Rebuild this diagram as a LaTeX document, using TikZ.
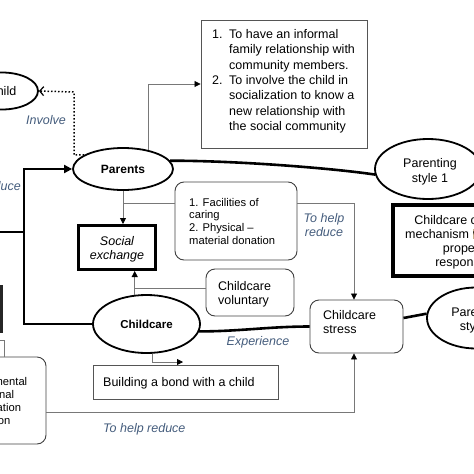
\documentclass[tikz,border=0pt]{standalone}
\usepackage{fontspec}
\setmainfont{Liberation Sans}
\usetikzlibrary{shapes.geometric,arrows.meta,calc}
\definecolor{lblue}{RGB}{68,92,124}
\definecolor{cgray}{RGB}{120,120,120}
\definecolor{bgray}{RGB}{85,85,85}
\definecolor{tanhl}{RGB}{200,175,135}
\newcommand{\fsA}{\fontsize{12.5}{15.3}\selectfont}
\newcommand{\fsB}{\fontsize{11.2}{12.8}\selectfont}
\newcommand{\fsC}{\fontsize{12.5}{14}\selectfont}
\newcommand{\fsD}{\fontsize{11.2}{13}\selectfont}
\begin{document}
\begin{tikzpicture}[x=1pt,y=-1pt,
  ell/.style={ellipse, draw, line width=1.8pt, inner sep=0pt},
  rbox/.style={draw=black!75, line width=0.9pt, rounded corners=9pt, inner sep=0pt},
  sbox/.style={draw=bgray, line width=0.9pt, inner sep=0pt},
  tkbox/.style={draw, line width=3pt, inner sep=0pt},
  conn/.style={draw=cgray, line width=0.8pt, -{Triangle[length=6pt,width=6pt,color=black]}},
  thinline/.style={draw=cgray, line width=0.8pt},
  thk/.style={draw, line width=2.6pt},
  lbl/.style={font=\fsA\itshape, text=lblue, inner sep=0pt},
  txt/.style={inner sep=0pt, font=\fsA},
]
\useasboundingbox (0,0) rectangle (474,474);
\clip (0,0) rectangle (474,474);

% ---- shapes ----
\node[ell, minimum width=72pt, minimum height=37pt, font=\fsA] (child) at (2,91) {Child};
\node[ell, minimum width=100pt, minimum height=42pt, font=\fontsize{12}{14}\selectfont\bfseries] (parents) at (123,169) {Parents};
\node[ell, minimum width=106pt, minimum height=60pt] (style1) at (428,169) {};
\node[ell, minimum width=98pt, minimum height=61pt] (style2) at (476,318) {};
\node[ell, minimum width=107pt, minimum height=58pt, font=\fontsize{11.5}{13}\selectfont\bfseries] (childcare) at (146.5,324) {Childcare};

\node[sbox, minimum width=166pt, minimum height=128pt] (goals) at (284,84) {};
\node[tkbox, minimum width=77pt, minimum height=44pt] (social) at (117,247.5) {};
\node[rbox, minimum width=122pt, minimum height=78pt] (facil) at (236,221) {};
\node[rbox, minimum width=88pt, minimum height=47pt] (volun) at (250,292.5) {};
\node[sbox, minimum width=185pt, minimum height=34pt] (bond) at (185.5,382) {};
\node[rbox, minimum width=93pt, minimum height=53pt] (stress) at (356.5,326.5) {};
\node[draw, line width=3.4pt, inner sep=0pt, minimum width=138pt, minimum height=71pt] (mech) at (462,240.5) {};
\node[rbox, minimum width=106pt, minimum height=87pt] (leftbox) at (-7,400.5) {};
\node[draw=black!85, line width=3pt, inner sep=0pt, minimum width=80pt, minimum height=45pt] (darkbox) at (-39,308.5) {};

% ---- texts ----
\node[txt, anchor=base west] (goalsT) at (212,38.5) {\fsA\begin{tabular}[t]{@{}l@{\hspace{6.6pt}}l@{}}
1. & To have an informal\\
   & family relationship with\\
   & community members.\\
2. & To involve the child in\\
   & socialization to know a\\
   & new relationship with\\
   & the social community
\end{tabular}};
\node[txt, anchor=base] (style1T) at (430,167.6) {\fontsize{12.5}{15}\selectfont\begin{tabular}[t]{@{}c@{}}Parenting\\style 1\end{tabular}};
\node[txt, anchor=base] (style2T) at (478,316.5) {\fsC\begin{tabular}[t]{@{}c@{}}Parenting\\style 2\end{tabular}};
\node[txt, anchor=base] (socialT) at (117,245.5) {\fsC\itshape\begin{tabular}[t]{@{}c@{}}Social\\exchange\end{tabular}};
\node[txt, anchor=base west] (facilT) at (189,206) {\fsB\begin{tabular}[t]{@{}l@{}}1. Facilities of\\caring\\2. Physical –\\material donation\end{tabular}};
\node[txt, anchor=base west] (volunT) at (218,290.5) {\fsC\begin{tabular}[t]{@{}l@{}}Childcare\\voluntary\end{tabular}};
\node[txt, anchor=base west] (stressT) at (323,319.5) {\fsC\begin{tabular}[t]{@{}l@{}}Childcare\\stress\end{tabular}};
\node[txt, anchor=base west] (bondT) at (103,386.5) {Building a bond with a child};
\node[txt, anchor=base] (mechT) at (461,224.5) {\fsC\setlength{\fboxsep}{0.6pt}\begin{tabular}[t]{@{}c@{}}Childcare coping\\mechanism \colorbox{tanhl}{with the}\\proper\\response\end{tabular}};
\node[txt, anchor=base west] (leftT) at (-34.6,385) {\fsD\begin{tabular}[t]{@{}l@{}}Instrumental\\emotional\\information\\condition\end{tabular}};

% ---- labels ----
\node[lbl] (lInvolve) at (46,120) {Involve};
\node[lbl, anchor=base east] (lReduceL) at (21,190.5) {To help reduce};
\node[lbl, anchor=base] (lReduceM) at (324,222.5) {\fsC\itshape\begin{tabular}[t]{@{}c@{}}To help\\reduce\end{tabular}};
\node[lbl] (lExp) at (258,342) {Experience};
\node[lbl, anchor=west] (lReduceB) at (103,429) {To help reduce};

% ---- thin connectors ----
\draw[conn] (parents.37.5) |- (goals.west);
\draw[conn] (parents.south) -- (parents.south |- social.north);
\coordinate (f1) at ([yshift=18pt]facil.west);
\draw[thinline] (f1) -- (f1 -| parents.south);
\draw[conn] (childcare.112) -- (childcare.112 |- social.south);
\coordinate (v1) at ([yshift=4.5pt]volun.west);
\draw[thinline] (v1) -- (v1 -| childcare.112);
\draw[conn] ([yshift=18pt]facil.east) -| ([xshift=-2.5pt]stress.north);
\draw[conn] ([yshift=-11.5pt]leftbox.east) -| ([xshift=-2.5pt]stress.south);
\coordinate (bondtip) at (183,362);
\draw[conn] (childcare.-79) |- (bondtip);
\coordinate (lc) at (-10,340);
\coordinate (lc2) at (4,0);
\draw[thinline] (lc) -| (lc2 |- leftbox.north);

% ---- dotted ----
\coordinate (dc) at (74,92);
\draw[line width=1.5pt, dotted, -{Straight Barb[length=4pt,width=9pt,line width=1.2pt]}] (parents.160) -| (dc) -- (child.east);

% ---- thick connectors ----
\coordinate (lv) at (24,0);
\draw[thk, -{Triangle[length=8pt,width=8pt]}] (childcare.west) -| (lv |- parents.west) -- (parents.west);
\coordinate (lin) at (-10,232);
\draw[thk] (lin) -- (lin -| lv);
\draw[thk] (parents.10) .. controls +(70,0) and +(-40,-6) .. (style1.186);
\draw[thk] (childcare.-8) .. controls +(40,0) and +(-40,0) .. (stress.west);
\draw[thk] ([yshift=8.5pt]stress.east) -- (style2.175);
\end{tikzpicture}
\end{document}
